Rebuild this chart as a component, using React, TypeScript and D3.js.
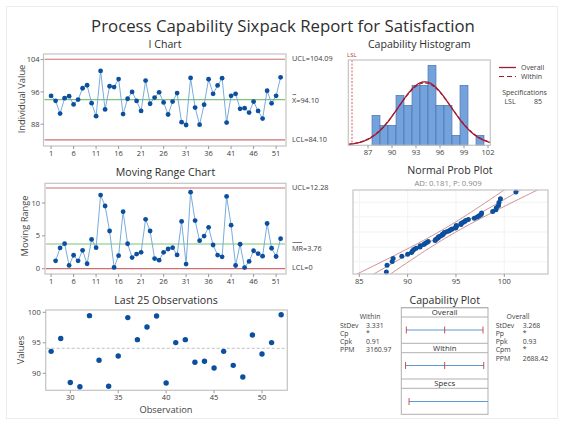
import React from 'react';
import * as d3 from 'd3';

const FONT = "'Open Sans', 'Noto Sans', sans-serif";

// ---------- data ----------
const observations = d3.range(1, 53);
const values = [95.0, 93.8, 90.64, 94.45, 94.95, 92.9, 94.1, 96.9, 97.65, 93.2, 90.0, 101.2, 91.66, 97.4, 97.2, 99.18, 90.5, 94.3, 96.0, 93.77, 91.28, 98.8, 93.06, 94.6, 95.9, 93.4, 90.4, 93.6, 95.7, 88.5, 87.8, 99.45, 92.13, 87.87, 92.84, 99.13, 95.52, 97.6, 99.4, 88.4, 95.03, 95.52, 91.8, 91.97, 90.87, 93.6, 91.3, 89.4, 96.28, 93.17, 95.03, 99.6];
const mean = 94.1;
const sdWithin = 3.331;
const sdOverall = 3.268;
const lsl = 85;
const iUCL = 104.09;
const iLCL = 84.1;
const mrBar = 3.76;
const mrUCL = 12.28;
const mrLCL = 0;

const iTicksX = [1, 6, 11, 16, 21, 26, 31, 36, 41, 46, 51];
const iTicksY = [88, 96, 104];
const mrTicksY = [0, 5, 10];
const lastTicksX = [30, 35, 40, 45, 50];
const lastTicksY = [90, 95, 100];
const histBins = [88, 89, 90, 91, 92, 93, 94, 95, 96, 97, 98, 99, 100, 101];
const histCounts = [3, 2, 2, 5, 4, 6, 6, 8, 4, 4, 1, 6, 0, 1];
const histTicks = [87, 90, 93, 96, 99, 102];
const probTicks = [85, 90, 95, 100];
const withinStats = [['StDev', '3.331'], ['Cp', '*'], ['Cpk', '0.91'], ['PPM', '3160.97']];
const overallStats = [['StDev', '3.268'], ['Pp', '*'], ['Ppk', '0.93'], ['Cpm', '*'], ['PPM', '2688.42']];
const adText = 'AD: 0.181, P: 0.909';

// ---------- colors ----------
const C = {
  point: '#0c4f9e',
  link: '#6aa3d8',
  center: '#7cc47c',
  limit: '#cd7070',
  frame: '#c4c4c4',
  text: '#2e2e2e',
  tick: '#3c3c3c',
  bar: '#75a2da',
  barStroke: '#3d6eb0',
  curve: '#a31a2e',
  band: '#c98080',
  blue: '#5b9bd5',
  red: '#d03a3a',
};

// inverse normal CDF (Acklam)
function invNorm(p: number): number {
  const a = [-3.969683028665376e1, 2.209460984245205e2, -2.759285104469687e2, 1.38357751867269e2, -3.066479806614716e1, 2.506628277459239];
  const b = [-5.447609879822406e1, 1.615858368580409e2, -1.556989798598866e2, 6.680131188771972e1, -1.328068155288572e1];
  const c = [-7.784894002430293e-3, -3.223964580411365e-1, -2.400758277161838, -2.549732539343734, 4.374664141464968, 2.938163982698783];
  const d = [7.784695709041462e-3, 3.224671290700398e-1, 2.445134137142996, 3.754408661907416];
  const pl = 0.02425;
  let q, r;
  if (p < pl) {
    q = Math.sqrt(-2 * Math.log(p));
    return (((((c[0] * q + c[1]) * q + c[2]) * q + c[3]) * q + c[4]) * q + c[5]) / ((((d[0] * q + d[1]) * q + d[2]) * q + d[3]) * q + 1);
  } else if (p <= 1 - pl) {
    q = p - 0.5; r = q * q;
    return (((((a[0] * r + a[1]) * r + a[2]) * r + a[3]) * r + a[4]) * r + a[5]) * q / (((((b[0] * r + b[1]) * r + b[2]) * r + b[3]) * r + b[4]) * r + 1);
  }
  q = Math.sqrt(-2 * Math.log(1 - p));
  return -(((((c[0] * q + c[1]) * q + c[2]) * q + c[3]) * q + c[4]) * q + c[5]) / ((((d[0] * q + d[1]) * q + d[2]) * q + d[3]) * q + 1);
}
const pdf = (x: number, m: number, s: number) => Math.exp(-0.5 * ((x - m) / s) ** 2) / (s * Math.sqrt(2 * Math.PI));

type TP = { x: number; y: number; size?: number; anchor?: string; fill?: string; weight?: number; children: React.ReactNode; rotate?: boolean };
function T({ x, y, size = 7.5, anchor = 'start', fill = C.tick, weight = 400, children, rotate }: TP) {
  return (
    <text x={x} y={y} dy="0.35em" fontSize={size} textAnchor={anchor as any} fill={fill} fontWeight={weight} fontFamily={FONT}
      transform={rotate ? `rotate(-90 ${x} ${y})` : undefined}>{children}</text>
  );
}

function Frame({ x0, x1, y0, y1 }: { x0: number; x1: number; y0: number; y1: number }) {
  return <rect x={x0} y={y0} width={x1 - x0} height={y1 - y0} fill="none" stroke={C.frame} strokeWidth={1.2} />;
}

const PT = 10.6; // panel title size

// ---------- I chart ----------
function IChart() {
  const x0 = 43.5, x1 = 286, y0 = 54, y1 = 146;
  const x = d3.scaleLinear().domain([1, 51]).range([51.1, 276.1]);
  const y = d3.scaleLinear().domain([88, 104]).range([124.2, 59.6]);
  const line = d3.line<number>().x((_, i) => x(observations[i])).y(d => y(d));
  return (
    <g>
      <T x={165} y={44.5} size={PT} anchor="middle" fill={C.text}>I Chart</T>
      <Frame x0={x0} x1={x1} y0={y0} y1={y1} />
      {[iUCL, iLCL].map((v, i) => <line key={i} x1={x0 + 1} x2={x1 - 1} y1={y(v)} y2={y(v)} stroke={C.limit} strokeWidth={1.2} />)}
      <line x1={x0 + 1} x2={x1 - 1} y1={y(mean)} y2={y(mean)} stroke={C.center} strokeWidth={1.2} />
      <path d={line(values) || ''} fill="none" stroke={C.link} strokeWidth={0.9} />
      {values.map((v, i) => <circle key={i} cx={x(observations[i])} cy={y(v)} r={2.4} fill={C.point} />)}
      {iTicksY.map(t => <g key={t}><line x1={x0 - 3} x2={x0} y1={y(t)} y2={y(t)} stroke="#999" /><T x={x0 - 4} y={y(t)} anchor="end">{t}</T></g>)}
      {iTicksX.map(t => <g key={t}><line x1={x(t)} x2={x(t)} y1={y1} y2={y1 + 3} stroke="#999" /><T x={x(t)} y={153.5} anchor="middle">{t}</T></g>)}
      <T x={22} y={99} size={9.3} anchor="middle" fill="#444" rotate>Individual Value</T>
      <T x={292} y={y(iUCL) - 1} size={7.3}>UCL=104.09</T>
      <T x={292} y={y(mean) + 0.5} size={7.3}>X=94.10</T>
      <line x1={292.6} x2={296.2} y1={y(mean) - 5} y2={y(mean) - 5} stroke={C.tick} strokeWidth={0.7} />
      <T x={292} y={y(iLCL) - 0.5} size={7.3}>LCL=84.10</T>
    </g>
  );
}

// ---------- Moving range ----------
function MRChart() {
  const x0 = 45, x1 = 286, y0 = 183.3, y1 = 274;
  const x = d3.scaleLinear().domain([1, 51]).range([51.1, 276.1]);
  const y = d3.scaleLinear().domain([0, 10]).range([268.7, 203]);
  const mr = values.slice(1).map((v, i) => ({ obs: observations[i + 1], r: Math.abs(v - values[i]) }));
  const line = d3.line<{ obs: number; r: number }>().x(d => x(d.obs)).y(d => y(d.r));
  return (
    <g>
      <T x={165.5} y={172.7} size={PT} anchor="middle" fill={C.text}>Moving Range Chart</T>
      <Frame x0={x0} x1={x1} y0={y0} y1={y1} />
      {[mrUCL, mrLCL].map((v, i) => <line key={i} x1={x0 + 1} x2={x1 - 1} y1={y(v)} y2={y(v)} stroke={C.limit} strokeWidth={1.2} />)}
      <line x1={x0 + 1} x2={x1 - 1} y1={y(mrBar)} y2={y(mrBar)} stroke={C.center} strokeWidth={1.2} />
      <path d={line(mr) || ''} fill="none" stroke={C.link} strokeWidth={0.9} />
      {mr.map((d, i) => <circle key={i} cx={x(d.obs)} cy={y(d.r)} r={2.4} fill={C.point} />)}
      {mrTicksY.map(t => <g key={t}><line x1={x0 - 3} x2={x0} y1={y(t)} y2={y(t)} stroke="#999" /><T x={x0 - 5} y={y(t)} anchor="end">{t}</T></g>)}
      {iTicksX.map(t => <g key={t}><line x1={x(t)} x2={x(t)} y1={y1} y2={y1 + 3} stroke="#999" /><T x={x(t)} y={281.5} anchor="middle">{t}</T></g>)}
      <T x={25} y={226} size={9.3} anchor="middle" fill="#444" rotate>Moving Range</T>
      <T x={292} y={y(mrUCL) - 0.5} size={7.3}>UCL=12.28</T>
      <T x={292} y={y(mrBar) + 4} size={7.3}>MR=3.76</T>
      <line x1={292.5} x2={302} y1={y(mrBar) - 1.5} y2={y(mrBar) - 1.5} stroke={C.tick} strokeWidth={0.7} />
      <T x={292} y={y(mrLCL) - 1} size={7.3}>LCL=0</T>
    </g>
  );
}

// ---------- Last 25 ----------
function Last25() {
  const x0 = 45.7, x1 = 287.3, y0 = 310, y1 = 390.3;
  const x = d3.scaleLinear().domain([30, 50]).range([70.3, 262]);
  const y = d3.scaleLinear().domain([90, 100]).range([373.3, 312.3]);
  const last = values.slice(-25).map((v, i) => ({ obs: observations[27 + i], v }));
  return (
    <g>
      <T x={166} y={300} size={PT} anchor="middle" fill={C.text}>Last 25 Observations</T>
      <Frame x0={x0} x1={x1} y0={y0} y1={y1} />
      <line x1={x0 + 1} x2={x1 - 1} y1={y(mean)} y2={y(mean)} stroke="#b8b8b8" strokeDasharray="3 2" strokeWidth={0.9} />
      {last.map((d, i) => <circle key={i} cx={x(d.obs)} cy={y(d.v)} r={2.7} fill={C.point} />)}
      {lastTicksY.map(t => <g key={t}><line x1={x0 - 3} x2={x0} y1={y(t)} y2={y(t)} stroke="#999" /><T x={x0 - 5} y={y(t)} anchor="end">{t}</T></g>)}
      {lastTicksX.map(t => <g key={t}><line x1={x(t)} x2={x(t)} y1={y1} y2={y1 + 3} stroke="#999" /><T x={x(t)} y={397.7} anchor="middle">{t}</T></g>)}
      <T x={21} y={350} size={9.3} anchor="middle" fill="#444" rotate>Values</T>
      <T x={166} y={410} size={9.3} anchor="middle" fill="#444">Observation</T>
    </g>
  );
}

// ---------- Histogram ----------
function Histogram() {
  const x0 = 348.3, x1 = 490.3, y0 = 60, y1 = 145.3;
  const x = d3.scaleLinear().domain([87, 102]).range([368, 488]);
  const y = d3.scaleLinear().domain([0, 8]).range([y1, y1 - 80]);
  const xMin = x.invert(x0), xMax = x.invert(x1);
  const grid = d3.range(0, 201).map(i => xMin + (xMax - xMin) * i / 200);
  const n = values.length;
  const curve = (s: number) => d3.line<number>().x(v => x(v)).y(v => y(pdf(v, mean, s) * n))(grid) || '';
  return (
    <g>
      <T x={419.3} y={44.5} size={PT} anchor="middle" fill={C.text}>Capability Histogram</T>
      {histBins.map((b, i) => histCounts[i] > 0 && (
        <rect key={b} x={x(b - 0.5)} y={y(histCounts[i])} width={x(b + 0.5) - x(b - 0.5)} height={y(0) - y(histCounts[i])} fill={C.bar} stroke={C.barStroke} strokeWidth={0.6} />
      ))}
      <path d={curve(sdOverall)} fill="none" stroke={C.curve} strokeWidth={1.3} />
      <path d={curve(sdWithin)} fill="none" stroke={C.curve} strokeWidth={1.1} strokeDasharray="4 2" />
      <line x1={x(lsl)} x2={x(lsl)} y1={y0} y2={y1} stroke="#d04848" strokeWidth={0.9} strokeDasharray="2 1.5" />
      <T x={x(lsl) - 5} y={54.5} size={6} fill="#c03030">LSL</T>
      <Frame x0={x0} x1={x1} y0={y0} y1={y1} />
      {histTicks.map(t => <g key={t}><line x1={x(t)} x2={x(t)} y1={y1} y2={y1 + 3} stroke="#999" /><T x={x(t)} y={152.5} anchor="middle">{t}</T></g>)}
      <line x1={499} x2={516} y1={67.5} y2={67.5} stroke={C.curve} strokeWidth={1.3} />
      <line x1={499} x2={516} y1={76.5} y2={76.5} stroke={C.curve} strokeWidth={1.1} strokeDasharray="5 3" />
      <T x={521} y={67.5} size={7}>Overall</T>
      <T x={521} y={76.5} size={7}>Within</T>
      <T x={524.5} y={93} size={7} anchor="middle">Specifications</T>
      <T x={510} y={101.5} size={7} anchor="middle">LSL</T>
      <T x={538} y={101.5} size={7} anchor="middle">85</T>
    </g>
  );
}

// ---------- Normal probability plot ----------
function ProbPlot() {
  const x0 = 353, x1 = 548, y0 = 190, y1 = 274;
  const x = d3.scaleLinear().domain([85, 100]).range([359.3, 504.3]);
  const zMax = invNorm(0.99);
  const y = d3.scaleLinear().domain([-zMax, zMax]).range([y1, y0]);
  const n = values.length;
  const sorted = [...values].sort((a, b) => a - b);
  const pts = sorted.map((v, i) => ({ v, z: invNorm((i + 1 - 0.3) / (n + 0.4)) }));
  const zs = d3.range(0, 101).map(i => -zMax + (2 * zMax) * i / 100);
  const band = (k: number) => d3.line<number>()
    .x(z => x(mean + sdOverall * z + k * 1.96 * sdOverall * Math.sqrt(1 / n + (z * z) / (2 * (n - 1)))))
    .y(z => y(z))(zs) || '';
  const gridY = [0.05, 0.2, 0.5, 0.8, 0.95].map(invNorm);
  return (
    <g>
      <T x={450} y={170.5} size={PT} anchor="middle" fill={C.text}>Normal Prob Plot</T>
      <T x={448} y={182.8} size={7.8} anchor="middle" fill="#8a8a8a">{adText}</T>
      <defs><clipPath id="probclip"><rect x={x0} y={y0} width={x1 - x0} height={y1 - y0} /></clipPath></defs>
      {probTicks.map(t => <line key={t} x1={x(t)} x2={x(t)} y1={y0} y2={y1} stroke="#f0f0f0" strokeWidth={0.8} />)}
      {gridY.map((g, i) => <line key={i} x1={x0} x2={x1} y1={y(g)} y2={y(g)} stroke="#f0f0f0" strokeWidth={0.8} />)}
      <g clipPath="url(#probclip)">
        {[-1, 0, 1].map(k => <path key={k} d={band(k)} fill="none" stroke={C.band} strokeWidth={0.9} />)}
      </g>
      {pts.map((d, i) => <circle key={i} cx={x(d.v)} cy={y(d.z)} r={2.5} fill={C.point} />)}
      <Frame x0={x0} x1={x1} y0={y0} y1={y1} />
      {probTicks.map(t => <g key={t}><line x1={x(t)} x2={x(t)} y1={y1} y2={y1 + 3} stroke="#999" /><T x={x(t)} y={281.5} anchor="middle">{t}</T></g>)}
    </g>
  );
}

// ---------- Capability plot ----------
function CapPlot() {
  const bx0 = 401.3, bx1 = 488, by0 = 307.7, by1 = 414.3;
  const x = d3.scaleLinear().domain([mean - 3 * sdOverall, mean + 3 * sdOverall]).range([406.3, 483]);
  const rows = [
    { label: 'Overall', h0: 307.7, h1: 317, ly: 330, sd: sdOverall },
    { label: 'Within', h0: 343.3, h1: 352.7, ly: 365.5, sd: sdWithin },
  ];
  const tick = (cx: number, cy: number, k: string | number) => <line key={k} x1={cx} x2={cx} y1={cy - 3.5} y2={cy + 3.5} stroke={C.red} strokeWidth={0.9} />;
  return (
    <g>
      <T x={444.7} y={300} size={PT} anchor="middle" fill={C.text}>Capability Plot</T>
      <rect x={bx0} y={by0} width={bx1 - bx0} height={by1 - by0} fill="none" stroke="#b0b0b0" strokeWidth={1} />
      {rows.map(r => (
        <g key={r.label}>
          <line x1={bx0} x2={bx1} y1={r.h0} y2={r.h0} stroke="#b0b0b0" />
          <line x1={bx0} x2={bx1} y1={r.h1} y2={r.h1} stroke="#b0b0b0" />
          <T x={444.7} y={(r.h0 + r.h1) / 2} size={7.8} anchor="middle" fill={C.text}>{r.label}</T>
          <line x1={x(mean - 3 * r.sd)} x2={x(mean + 3 * r.sd)} y1={r.ly} y2={r.ly} stroke={C.blue} strokeWidth={1.2} />
          {[-3, 0, 3].map(k => tick(x(mean + k * r.sd), r.ly, k))}
        </g>
      ))}
      <line x1={bx0} x2={bx1} y1={379} y2={379} stroke="#b0b0b0" />
      <line x1={bx0} x2={bx1} y1={388.3} y2={388.3} stroke="#b0b0b0" />
      <T x={444.7} y={383.7} size={7.8} anchor="middle" fill={C.text}>Specs</T>
      <line x1={x(lsl)} x2={bx1} y1={401.5} y2={401.5} stroke={C.blue} strokeWidth={1.2} />
      {tick(x(lsl), 401.5, 'lsl')}
      <T x={370} y={317} size={6.9} anchor="middle">Within</T>
      {withinStats.map((s, i) => (
        <g key={s[0]}>
          <T x={340} y={325.3 + i * 8.2} size={6.9}>{s[0]}</T>
          <T x={366} y={325.3 + i * 8.2} size={6.9}>{s[1]}</T>
        </g>
      ))}
      <T x={518} y={317} size={6.9} anchor="middle">Overall</T>
      {overallStats.map((s, i) => (
        <g key={s[0] + i}>
          <T x={495.7} y={325.3 + i * 8.2} size={6.9}>{s[0]}</T>
          <T x={522.7} y={325.3 + i * 8.2} size={6.9}>{s[1]}</T>
        </g>
      ))}
    </g>
  );
}

export default function App() {
  return (
    <svg width={566} height={427} viewBox="0 0 566 427" style={{ position: 'absolute', left: 0, top: 0, background: '#fff' }}>
      <rect x={0} y={0} width={566} height={427} fill="#fff" />
      <rect x={6.5} y={6.5} width={551} height={412} fill="none" stroke="#ececec" />
      <text x={283} y={32} fontSize={16.8} textAnchor="middle" fill={C.text} fontFamily={FONT}>Process Capability Sixpack Report for Satisfaction</text>
      <IChart />
      <MRChart />
      <Last25 />
      <Histogram />
      <ProbPlot />
      <CapPlot />
    </svg>
  );
}
